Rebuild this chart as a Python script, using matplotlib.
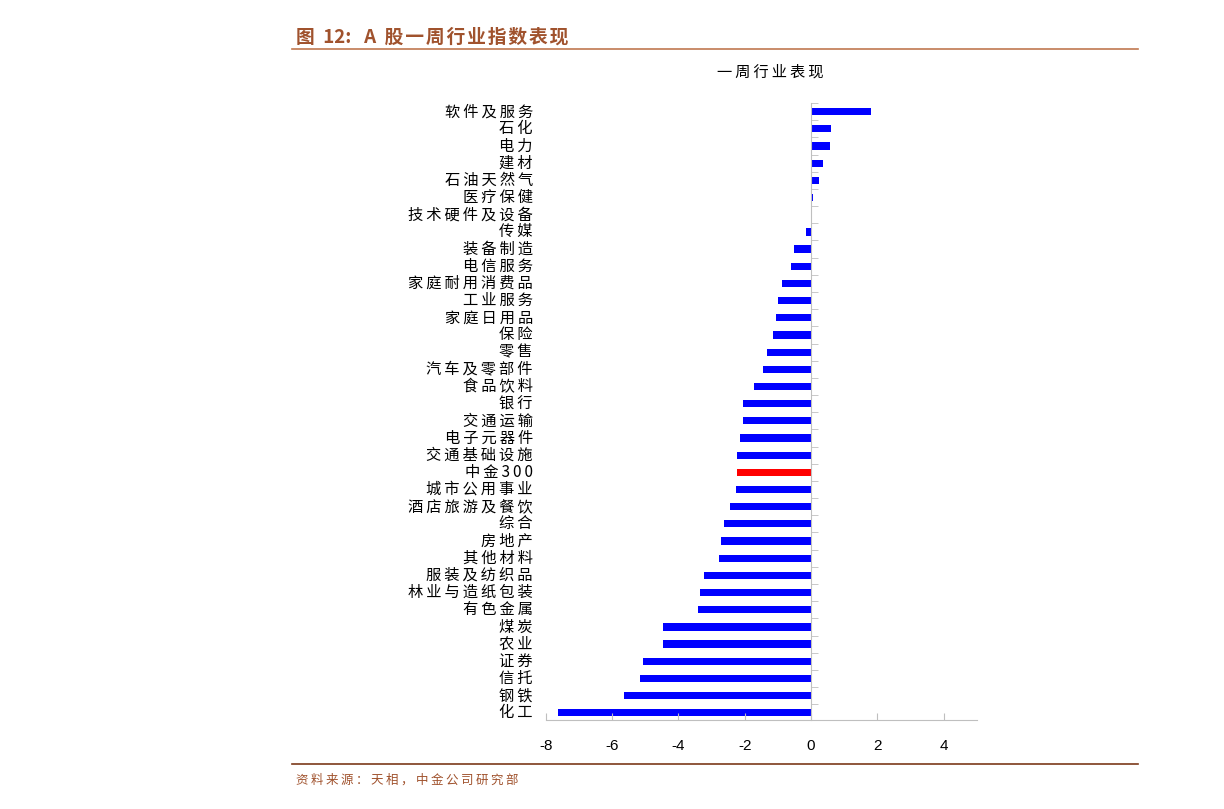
import numpy as np
import matplotlib.pyplot as plt
import matplotlib.transforms as mtransforms

plt.rcParams['font.family'] = ['Noto Sans CJK SC', 'DejaVu Sans']

industries = ['软件及服务', '石化', '电力', '建材', '石油天然气', '医疗保健', '技术硬件及设备',
              '传媒', '装备制造', '电信服务', '家庭耐用消费品', '工业服务', '家庭日用品', '保险',
              '零售', '汽车及零部件', '食品饮料', '银行', '交通运输', '电子元器件', '交通基础设施',
              '中金300', '城市公用事业', '酒店旅游及餐饮', '综合', '房地产', '其他材料',
              '服装及纺织品', '林业与造纸包装', '有色金属', '煤炭', '农业', '证券', '信托',
              '钢铁', '化工']
changes = [1.80, 0.60, 0.56, 0.35, 0.25, 0.07, 0.0,
           -0.15, -0.52, -0.60, -0.87, -1.00, -1.05, -1.14,
           -1.32, -1.45, -1.72, -2.05, -2.05, -2.14, -2.23,
           -2.23, -2.26, -2.46, -2.63, -2.73, -2.77,
           -3.22, -3.36, -3.40, -4.48, -4.48, -5.06, -5.16,
           -5.65, -7.64]
highlight = '中金300'
xticks = [-8, -6, -4, -2, 0, 2, 4]

brown = '#A0522D'
dark_brown = '#7B3A1A'
gray = '#BFBFBF'


def spaced(s, sep='\u2009'):
    return sep.join(s)


fig = plt.figure(figsize=(12.24, 8.09), dpi=100)
ax = fig.add_axes([0.446, 0.110, 0.352, 0.763])

y = np.arange(len(industries))
colors = ['#FF0000' if name == highlight else '#0000FF' for name in industries]
ax.barh(y, changes, height=0.42, color=colors)

ax.set_xlim(-8, 5)
ax.set_ylim(len(industries) - 0.58, -0.52)

# y axis sits at x = 0, ticks between categories
ax.spines['left'].set_position(('data', 0))
ax.spines['left'].set_color(gray)
ax.spines['bottom'].set_color(gray)
ax.spines['right'].set_visible(False)
ax.spines['top'].set_visible(False)
ax.set_yticks([])
ax.set_yticks(np.arange(-0.5, len(industries) - 0.5, 1), minor=True)
ax.tick_params(axis='y', which='minor', direction='in', length=5, color=gray)

ax.set_xticks(xticks)
ax.set_xticklabels([str(t) for t in xticks], family='Liberation Sans', fontsize=11)
ax.tick_params(axis='x', direction='in', length=5, color=gray, pad=14)

trans = mtransforms.blended_transform_factory(ax.transAxes, ax.transData)
for i, name in enumerate(industries):
    ax.text(-0.03, i, spaced(name), transform=trans, ha='right', va='center',
            fontsize=11, color='black')

ax.text(0.52, 1.049, spaced('一周行业表现'), transform=ax.transAxes, fontsize=11,
        ha='center', va='center')

# header and footer
fig.text(296 / 1224, 1 - 37 / 809, '图  12:   A  ' + spaced('股一周行业指数表现', '\u200a'),
         fontsize=13.5, fontweight='bold', color=brown, va='center', ha='left')
fig.add_artist(plt.Line2D([292 / 1224, 1138 / 1224], [1 - 49 / 809] * 2, color='#C07850', lw=1.2))
fig.add_artist(plt.Line2D([292 / 1224, 1138 / 1224], [1 - 764 / 809] * 2, color=dark_brown, lw=1.2))
fig.text(296 / 1224, 1 - 780 / 809, spaced('资料来源：天相，中金公司研究部'), fontsize=9,
         color=brown, va='center', ha='left')

fig.savefig('out.png', dpi=100)
